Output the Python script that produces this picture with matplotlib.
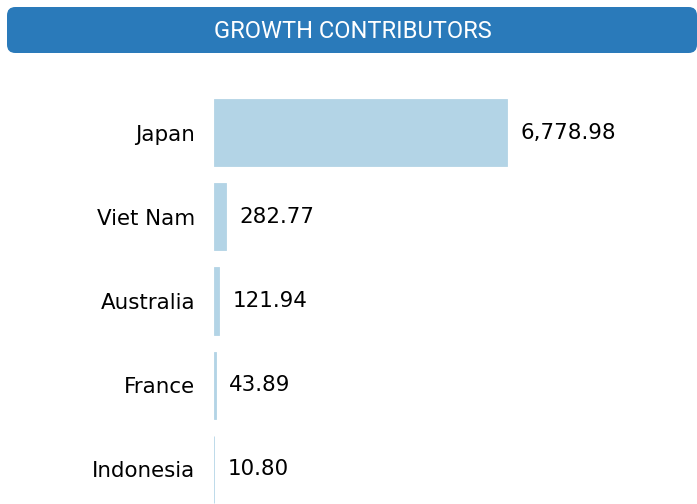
import matplotlib
matplotlib.use("Agg")
import matplotlib.pyplot as plt
from matplotlib.patches import FancyBboxPatch

countries = ["Japan", "Viet Nam", "Australia", "France", "Indonesia"]
values = [6778.98, 282.77, 121.94, 43.89, 10.80]
title = "GROWTH CONTRIBUTORS"

W, H = 697, 504
fig = plt.figure(figsize=(W / 100, H / 100), dpi=100)

# header banner
banner = FancyBboxPatch((7 / W, 1 - 53 / H), (W - 7) / W, 46 / H,
                        boxstyle="round,pad=0,rounding_size=0.012",
                        transform=fig.transFigure, facecolor="#2a7aba",
                        edgecolor="none", mutation_aspect=W / H)
fig.patches.append(banner)
fig.text(353 / W, 1 - 32 / H, title, color="white", fontsize=17,
         family="Roboto", ha="center", va="center")

# bar area: x from 214 px to right edge, rows 84 px apart
left = 214 / W
top = 1 - 90.5 / H
bottom = 1 - 511.5 / H
ax = fig.add_axes([left, bottom, 1 - left, top - bottom])
xmax = values[0] * (W - 214) / 293
ax.barh(range(len(countries)), values, height=0.8, color="#b3d4e6",
        edgecolor="#b3d4e6", linewidth=0.6)
ax.set_xlim(0, xmax)
ax.set_ylim(len(countries) - 0.5, -0.5)
ax.set_yticks(range(len(countries)))
ax.set_yticklabels(countries, fontsize=15.4, family="DejaVu Sans")
ax.tick_params(axis="y", length=0, pad=13.5)
ax.set_xticks([])
for s in ax.spines.values():
    s.set_visible(False)

for i, v in enumerate(values):
    ax.annotate(f"{v:,.2f}", (v, i), xytext=(13, 0), textcoords="offset pixels",
                ha="left", va="center", fontsize=15.4, family="DejaVu Sans")

fig.savefig("out.png", dpi=100)
